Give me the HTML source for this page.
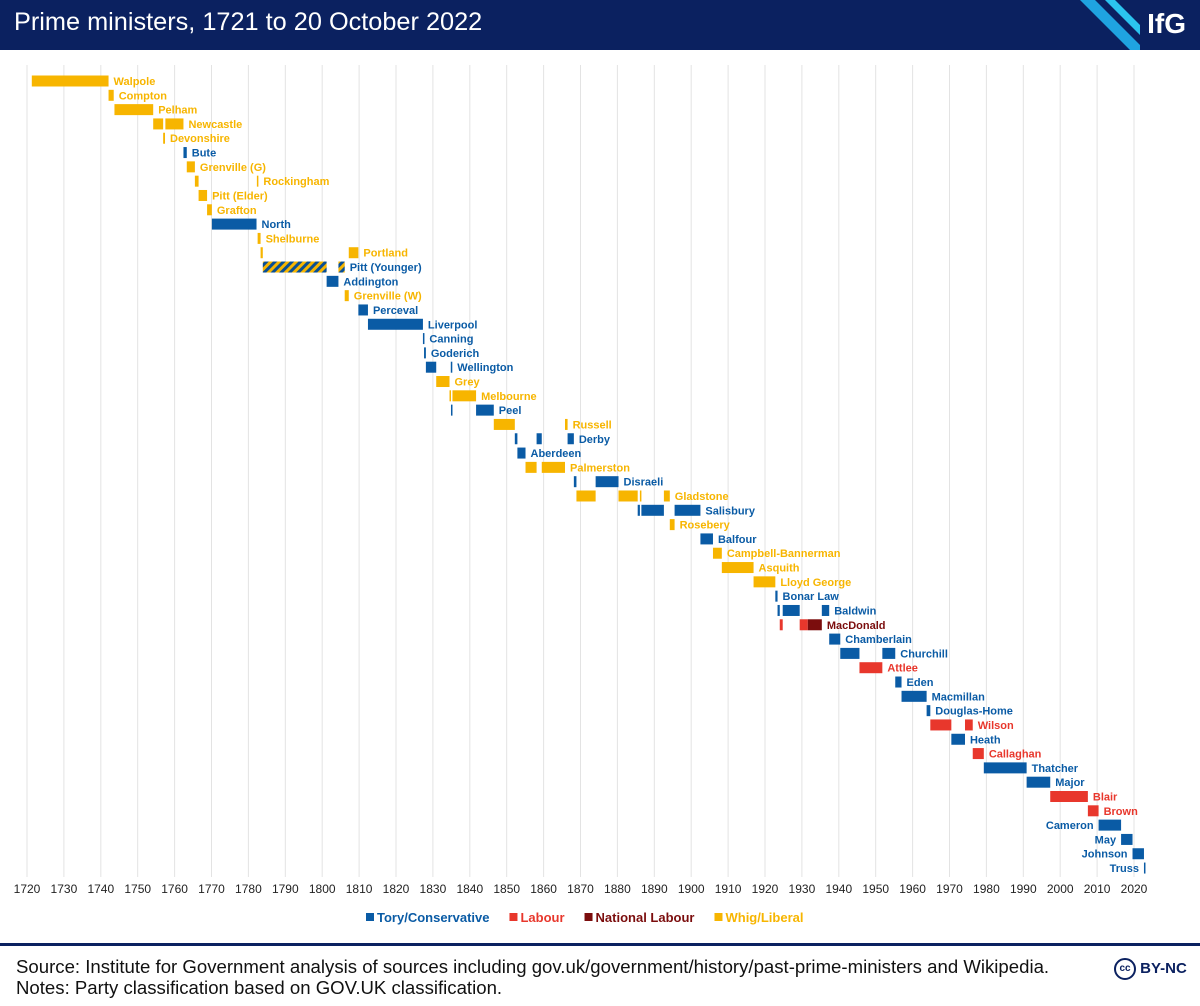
<!DOCTYPE html>
<html><head><meta charset="utf-8">
<style>
body{margin:0;width:1200px;height:1006px;background:#fff;font-family:"Liberation Sans",sans-serif;overflow:hidden;position:relative}
#hdr{position:absolute;left:0;top:0;width:1200px;height:50px;background:#0b2160}
#title{position:absolute;left:14px;top:8px;color:#fff;font-size:25.3px}
#logo{position:absolute;right:14px;top:8px;color:#fff;font-size:28px;font-weight:bold}
#foot{position:absolute;left:0;top:943px;width:1200px;height:3px;background:#0b2160}
.src{position:absolute;left:16px;font-size:18.6px;color:#111}
</style></head><body>
<div id="hdr">
<svg width="120" height="50" style="position:absolute;right:60px;top:0"><path d="M60 0 L75 0 L120 45 L120 60 Z" fill="#1fa3e0"/><path d="M85 0 L95 0 L120 25 L120 35Z" fill="#2bc4ef"/></svg>
<div id="title">Prime ministers, 1721 to 20 October 2022</div>
<div id="logo">IfG</div>
</div>
<svg id="chart" width="1200" height="940" style="position:absolute;left:0;top:0">
<defs><pattern id="hatch" width="6" height="6" patternUnits="userSpaceOnUse" patternTransform="rotate(45)"><rect width="6" height="6" fill="#f7b500"/><rect width="3" height="6" fill="#0a4f94"/></pattern></defs>
</svg>
<div id="foot"></div>
<div class="src" style="top:956px">Source: Institute for Government analysis of sources including gov.uk/government/history/past-prime-ministers and Wikipedia.</div>
<div class="src" style="top:977px">Notes: Party classification based on GOV.UK classification.</div>
<div style="position:absolute;left:1114px;top:958px;font-size:15px;font-weight:bold;color:#0b2160"><span style="display:inline-block;width:18px;height:18px;border:2px solid #0b2160;border-radius:50%;font-size:10px;text-align:center;line-height:18px;vertical-align:middle">cc</span> BY-NC</div>
<script>
const names=["Walpole","Compton","Pelham","Newcastle","Devonshire","Bute","Grenville (G)","Rockingham","Pitt (Elder)","Grafton","North","Shelburne","Portland","Pitt (Younger)","Addington","Grenville (W)","Perceval","Liverpool","Canning","Goderich","Wellington","Grey","Melbourne","Peel","Russell","Derby","Aberdeen","Palmerston","Disraeli","Gladstone","Salisbury","Rosebery","Balfour","Campbell-Bannerman","Asquith","Lloyd George","Bonar Law","Baldwin","MacDonald","Chamberlain","Churchill","Attlee","Eden","Macmillan","Douglas-Home","Wilson","Heath","Callaghan","Thatcher","Major","Blair","Brown","Cameron","May","Johnson","Truss"];
const labelParty=["W","W","W","W","W","T","W","W","W","W","T","W","W","T","T","W","T","T","T","T","T","W","W","T","W","T","T","W","T","W","T","W","T","W","W","W","T","T","N","T","T","L","T","T","T","L","T","L","T","T","L","L","T","T","T","T"];
const terms=[
[[1721.3,1742.1,"W"]],[[1742.1,1743.5,"W"]],[[1743.7,1754.2,"W"]],[[1754.2,1756.9,"W"],[1757.5,1762.4,"W"]],[[1756.9,1757.4,"W"]],
[[1762.4,1763.3,"T"]],[[1763.3,1765.5,"W"]],[[1765.5,1766.5,"W"],[1782.3,1782.5,"W"]],[[1766.5,1768.8,"W"]],[[1768.8,1770.1,"W"]],
[[1770.1,1782.2,"T"]],[[1782.5,1783.3,"W"]],[[1783.3,1783.9,"W"],[1807.2,1809.8,"W"]],[[1783.9,1801.2,"H"],[1804.4,1806.1,"H"]],[[1801.2,1804.4,"T"]],
[[1806.1,1807.2,"W"]],[[1809.8,1812.4,"T"]],[[1812.4,1827.3,"T"]],[[1827.3,1827.6,"T"]],[[1827.6,1828.1,"T"]],
[[1828.1,1830.9,"T"],[1834.85,1835.0,"T"]],[[1830.9,1834.5,"W"]],[[1834.5,1834.9,"W"],[1835.3,1841.7,"W"]],[[1834.9,1835.3,"T"],[1841.7,1846.5,"T"]],[[1846.5,1852.2,"W"],[1865.8,1866.5,"W"]],
[[1852.2,1852.9,"T"],[1858.1,1859.5,"T"],[1866.5,1868.2,"T"]],[[1852.9,1855.1,"T"]],[[1855.1,1858.1,"W"],[1859.5,1865.8,"W"]],[[1868.2,1868.9,"T"],[1874.1,1880.3,"T"]],
[[1868.9,1874.1,"W"],[1880.3,1885.5,"W"],[1886.1,1886.5,"W"],[1892.6,1894.2,"W"]],[[1885.5,1886.1,"T"],[1886.5,1892.6,"T"],[1895.5,1902.5,"T"]],[[1894.2,1895.5,"W"]],
[[1902.5,1905.9,"T"]],[[1905.9,1908.3,"W"]],[[1908.3,1916.9,"W"]],[[1916.9,1922.8,"W"]],[[1922.8,1923.4,"T"]],
[[1923.4,1924.0,"T"],[1924.8,1929.4,"T"],[1935.4,1937.4,"T"]],[[1924.0,1924.8,"L"],[1929.4,1931.6,"L"],[1931.6,1935.4,"N"]],[[1937.4,1940.4,"T"]],
[[1940.4,1945.6,"T"],[1951.8,1955.3,"T"]],[[1945.6,1951.8,"L"]],[[1955.3,1957.0,"T"]],[[1957.0,1963.8,"T"]],[[1963.8,1964.8,"T"]],
[[1964.8,1970.5,"L"],[1974.2,1976.3,"L"]],[[1970.5,1974.2,"T"]],[[1976.3,1979.3,"L"]],[[1979.3,1990.9,"T"]],[[1990.9,1997.3,"T"]],
[[1997.3,2007.5,"L"]],[[2007.5,2010.4,"L"]],[[2010.4,2016.5,"T"]],[[2016.5,2019.6,"T"]],[[2019.6,2022.7,"T"]],[[2022.7,2022.8,"T"]]];
const ticks=[1720,1730,1740,1750,1760,1770,1780,1790,1800,1810,1820,1830,1840,1850,1860,1870,1880,1890,1900,1910,1920,1930,1940,1950,1960,1970,1980,1990,2000,2010,2020];
const legendKeys=["T","L","N","W"];
const legendNames=["Tory/Conservative","Labour","National Labour","Whig/Liberal"];
const col={T:"#0a5ba5",L:"#e8372c",N:"#7b0d0d",W:"#f7b500",H:"url(#hatch)"};
const x=y=>27+(y-1720)*3.69;
const yr=i=>81+i*14.31;
const svg=document.getElementById('chart');const NS="http://www.w3.org/2000/svg";
function mk(t,a){const e=document.createElementNS(NS,t);for(const k in a)e.setAttribute(k,a[k]);svg.appendChild(e);return e;}
ticks.forEach(t=>{const g=mk('line',{x1:x(t),x2:x(t),y1:65,y2:877,stroke:"#e3e3e3","stroke-width":1});


const l=mk('text',{x:x(t),y:893,"text-anchor":"middle","font-size":12,fill:"#222"});l.textContent=t;

});
names.forEach((n,i)=>{const cy=yr(i);let end=0,start=9999;
terms[i].forEach(tm=>{const w=Math.max(1.5,x(tm[1])-x(tm[0]));const r=mk('rect',{x:x(tm[0]),y:cy-5.5,width:w,height:11,fill:col[tm[2]]});


end=Math.max(end,x(tm[0])+w);start=Math.min(start,x(tm[0]));});
const left=i>=52;
const t=mk('text',{x:left?start-5:end+5,y:cy+4,"text-anchor":left?"end":"start","font-size":11,"font-weight":"bold",fill:col[labelParty[i]]});
t.textContent=n;

});
let lx=366;legendKeys.forEach((k,i)=>{const r=mk('rect',{x:lx,y:913,width:8,height:8,fill:col[k]});


const t=mk('text',{x:lx+11,y:922,"font-size":13,"font-weight":"bold",fill:col[k]});t.textContent=legendNames[i];


lx+=11+t.getComputedTextLength()+20;});
</script>
</body></html>
